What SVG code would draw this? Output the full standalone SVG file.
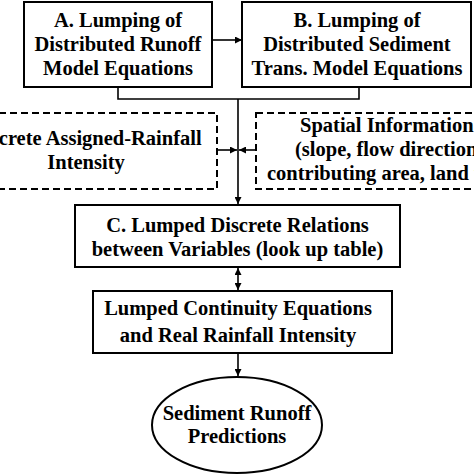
<svg xmlns="http://www.w3.org/2000/svg" width="474" height="474" viewBox="0 0 474 474">
<style>
.box{fill:#fff;stroke:#000;stroke-width:2}
.dash{fill:#fff;stroke:#000;stroke-width:2;stroke-dasharray:7 4}
.t{font-family:"Liberation Serif","Times New Roman",serif;font-weight:bold;font-size:20.5px;fill:#000;text-anchor:middle}
.s{text-anchor:start}
.c{fill:none;stroke:#000;stroke-width:1.6}
</style>
<defs>
<marker id="ah" viewBox="0 0 10 10" refX="10" refY="5" markerWidth="7" markerHeight="7" markerUnits="userSpaceOnUse" orient="auto-start-reverse">
<path d="M0,0 L10,5 L0,10 z" fill="#000"/>
</marker>
</defs>
<rect width="474" height="474" fill="#fff"/>
<g id="connectors">
<line class="c" x1="212" y1="40" x2="242" y2="40" marker-end="url(#ah)"/>
<polyline class="c" points="118,87 118,99 359,99 359,87"/>
<line class="c" x1="238" y1="99" x2="238" y2="204" marker-end="url(#ah)"/>
<line class="c" x1="217" y1="150" x2="237" y2="150" marker-end="url(#ah)"/>
<line class="c" x1="256" y1="150" x2="239" y2="150" marker-end="url(#ah)"/>
<line class="c" x1="238" y1="268" x2="238" y2="290" marker-start="url(#ah)" marker-end="url(#ah)"/>
<line class="c" x1="238" y1="353" x2="238" y2="376" marker-end="url(#ah)"/>
</g>
<g id="nodeA">
<rect class="box" x="24" y="2" width="188" height="85"/>
<text class="t" x="118" y="27">A. Lumping of</text>
<text class="t" x="118" y="51">Distributed Runoff</text>
<text class="t" x="118" y="75">Model Equations</text>
</g>
<g id="nodeB">
<rect class="box" x="242" y="2" width="229" height="85"/>
<text class="t" x="357" y="27">B. Lumping of</text>
<text class="t" x="357" y="51">Distributed Sediment</text>
<text class="t" x="357" y="75">Trans. Model Equations</text>
</g>
<g id="rainfall">
<rect class="dash" x="-45" y="113" width="262" height="76"/>
<text class="t" x="86" y="145">Discrete Assigned-Rainfall</text>
<text class="t" x="86" y="169">Intensity</text>
</g>
<g id="spatial">
<rect class="dash" x="256" y="113" width="262" height="76"/>
<text class="t s" x="300" y="132">Spatial Information</text>
<text class="t s" x="295" y="156">(slope, flow direction,</text>
<text class="t s" x="267" y="180">contributing area, land use)</text>
</g>
<g id="nodeC">
<rect class="box" x="75" y="205" width="325" height="62"/>
<text class="t" x="237.5" y="232">C. Lumped Discrete Relations</text>
<text class="t" x="237.5" y="256">between Variables (look up table)</text>
</g>
<g id="nodeD">
<rect class="box" x="93" y="291" width="299" height="62"/>
<text class="t" x="238" y="315">Lumped Continuity Equations</text>
<text class="t" x="238" y="342">and Real Rainfall Intensity</text>
</g>
<g id="predictions">
<ellipse class="box" cx="237" cy="425" rx="85" ry="48"/>
<text class="t" x="237" y="420">Sediment Runoff</text>
<text class="t" x="237" y="443">Predictions</text>
</g>
</svg>
